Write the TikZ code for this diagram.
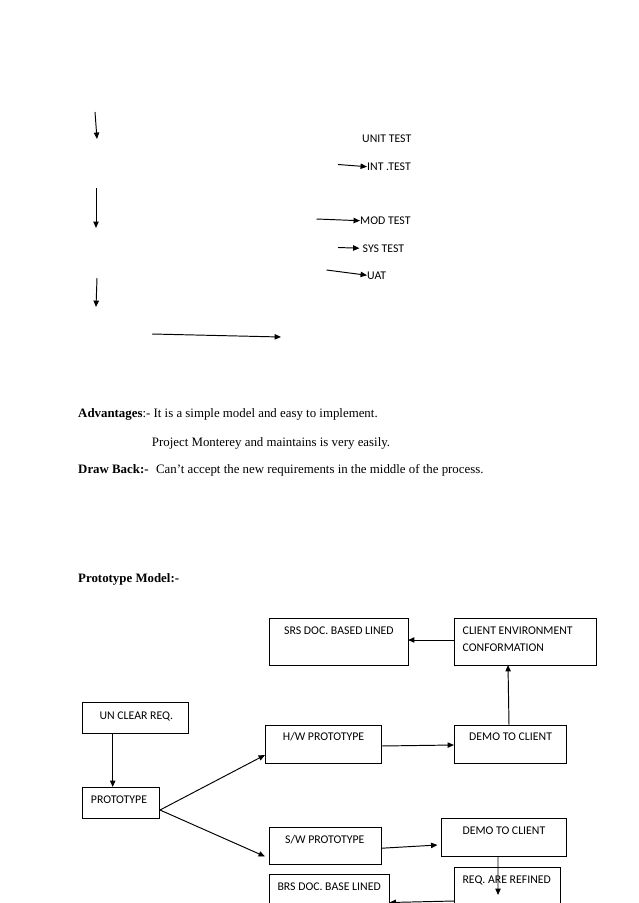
\documentclass[tikz,border=0pt]{standalone}
\usepackage{fontspec}
\setmainfont{Liberation Serif}
\newfontfamily\calibrifont{Carlito}
\usetikzlibrary{arrows.meta,fit,calc}
\begin{document}
\begin{tikzpicture}[x=0.9326pt,y=-0.9326pt,
  lbl/.style={font=\calibrifont\fontsize{11}{13}\selectfont, inner sep=0, anchor=base west},
  para/.style={font=\fontsize{12}{14}\selectfont, inner sep=0, anchor=base west},
  box/.style={draw, line width=0.9pt, inner sep=0, outer sep=0},
  arr/.style={line width=0.9pt, -{Triangle[length=6pt,width=5pt]}}]
\clip (0,0) rectangle (638,903);
\fill[white] (0,0) rectangle (638,903);

% ---- top section (V-model fragment) ----
\coordinate (d1a) at (95,112);  \coordinate (d1b) at (97,139);
\coordinate (d2a) at (96,188);  \coordinate (d2b) at (96,228);
\coordinate (d3a) at (97,278);  \coordinate (d3b) at (96,307);
\coordinate (h1a) at (152,334); \coordinate (h1b) at (281,337);
\draw[arr] (d1a) -- (d1b);
\draw[arr] (d2a) -- (d2b);
\draw[arr] (d3a) -- (d3b);
\draw[arr] (h1a) -- (h1b);

\node[lbl] (unitT) at (362,143) {UNIT TEST};
\node[lbl] (intT)  at (367,170.5) {INT .TEST};
\node[lbl] (modT)  at (360,224.5) {MOD TEST};
\node[lbl] (sysT)  at (362.5,252) {SYS TEST};
\node[lbl] (uatT)  at (367,279) {UAT};

\coordinate (ia) at (338,164.5);
\coordinate (ma) at (316.5,219);
\coordinate (sa) at (338,247.5);
\coordinate (ua) at (326.5,270);
\draw[arr] (ia) -- (intT.west);
\draw[arr] (ma) -- (modT.west);
\draw[arr] (sa) -- ($(sysT.west)+(-3,0)$);
\draw[arr] (ua) -- (uatT.west);

% ---- paragraph text ----
\node[para] (adv)  at (78,417) {\textbf{Advantages}:- It is a simple model and easy to implement.};
\node[para] (proj) at (151.7,446) {Project Monterey and maintains is very easily.};
\node[para] (drw)  at (78,473.3) {\textbf{Draw Back:-}\hspace{7pt}Can’t accept the new requirements in the middle of the process.};
\node[para] (pm)   at (78,582) {\textbf{Prototype Model:-}};

% ---- prototype model diagram ----
\node[box, fit={(269,618) (408,665)}] (srs) {};
\node[box, fit={(454,618) (596,665)}] (client) {};
\node[box, fit={(82,702) (188,733)}] (unclear) {};
\node[box, fit={(265,725) (381,763)}] (hw) {};
\node[box, fit={(454,725) (566,763)}] (demoA) {};
\node[box, fit={(82,787) (159,818)}] (proto) {};
\node[box, fit={(269,827) (381,864.5)}] (sw) {};
\node[box, fit={(441.5,818) (566,856)}] (demoB) {};
\node[box, fit={(454,867) (560,915)}] (req) {};
\node[box, fit={(269,874) (389.5,915)}] (brs) {};

\node[lbl] (srsT)     at (284,634) {SRS DOC. BASED LINED};
\node[lbl] (clientT1) at (462.5,634) {CLIENT ENVIRONMENT};
\node[lbl] (clientT2) at (462.5,651.5) {CONFORMATION};
\node[lbl] (unclearT) at (99.3,719) {UN CLEAR REQ.};
\node[lbl] (hwT)      at (282.7,740.5) {H/W PROTOTYPE};
\node[lbl] (demoAT)   at (469,740.5) {DEMO TO CLIENT};
\node[lbl] (protoT)   at (90.7,803.3) {PROTOTYPE};
\node[lbl] (swT)      at (285,843.3) {S/W PROTOTYPE};
\node[lbl] (demoBT)   at (462.3,834) {DEMO TO CLIENT};
\node[lbl] (reqT)     at (462.3,883) {REQ. ARE REFINED};
\node[lbl] (brsT)     at (277.3,890) {BRS DOC. BASE LINED};

\draw[arr] ($(client.west)+(0,-1.5)$) -- ($(srs.east)+(0,-1.5)$);
\draw[arr] ($(demoA.north west)+(55,0)$) -- ($(client.south west)+(54,0)$);
\draw[arr] ($(hw.east)+(0,2)$) -- ($(demoA.west)+(0,1)$);
\draw[arr] ($(unclear.south west)+(30.7,0)$) -- ($(proto.north west)+(30.7,0)$);
\draw[arr] ($(proto.south east)+(1,-8)$) -- ($(hw.south west)+(0,-8)$);
\draw[arr] ($(proto.south east)+(1,-8)$) -- ($(sw.south west)+(-4,-8)$);
\draw[arr] ($(sw.east)+(0,2.5)$) -- ($(demoB.west)+(-4,8)$);
\draw[arr] ($(demoB.south west)+(56.5,0)$) -- ($(req.north west)+(44,28)$);
\draw[arr] ($(req.north west)+(0,34)$) -- ($(brs.north east)+(0,28.5)$);
\end{tikzpicture}
\end{document}
